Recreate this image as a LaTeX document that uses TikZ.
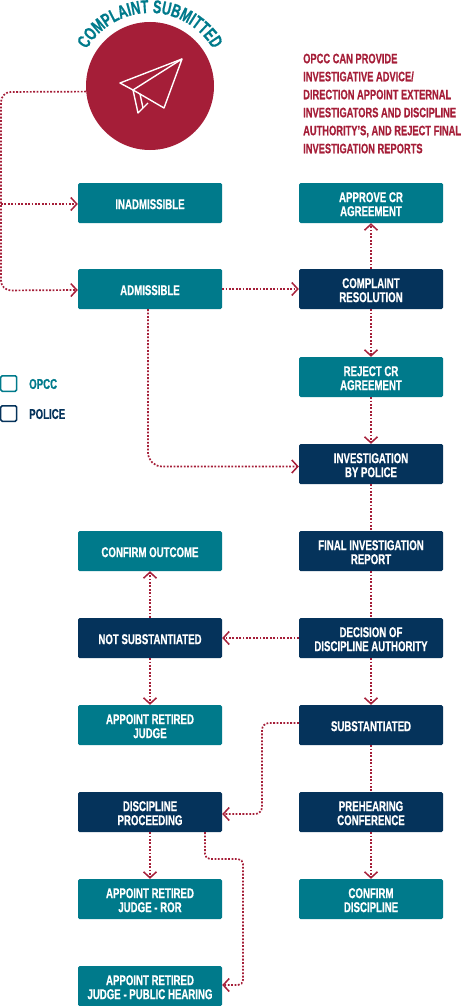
\documentclass[tikz,border=0pt]{standalone}
\usepackage{fontspec}
\setmainfont{Liberation Sans}
\newfontfamily\cond[FakeStretch=0.68,BoldFeatures={FakeBold=0.6}]{Liberation Sans}
\usetikzlibrary{arrows.meta,decorations.text}
\definecolor{crim}{HTML}{A51E38}
\definecolor{tealb}{HTML}{007A8B}
\definecolor{navyb}{HTML}{05335B}
\tikzset{
 x=1pt,y=-1pt,
 boxbase/.style={minimum width=144pt,minimum height=40pt,inner sep=0pt,rounded corners=1.5pt,text=white,align=center,
   font=\cond\bfseries\fontsize{14.2}{14}\selectfont},
 oneline/.style={text height=12.2pt,text depth=0pt},
 twoline/.style={text height=26.2pt,text depth=0pt},
 opcc/.style={boxbase,fill=tealb},
 pol/.style={boxbase,fill=navyb},
 conn/.style={crim,line width=1.7pt,dash pattern=on 1.8pt off 1.6pt},
 tip/.style={-{Straight Barb[length=6pt,width=13pt,line width=1.5pt,crim]}},
 legendbox/.style={draw,line width=1.5pt,rounded corners=1.5pt,minimum width=16pt,minimum height=15.5pt,inner sep=0pt},
 legendtext/.style={anchor=west,inner sep=0pt,font=\cond\bfseries\fontsize{14.2}{14}\selectfont},
}
\begin{document}
\begin{tikzpicture}
\useasboundingbox (0,0) rectangle (462,1006);
\node[circle,fill=crim,minimum size=128pt,inner sep=0pt] (circ) at (150,86) {};
\path[decorate,decoration={text along path,text align=center,text color=tealb,
  text={|\cond\bfseries\fontsize{18.6}{18}\selectfont|COMPLAINT SUBMITTED}}]
  (circ.center) ++(-150:73) arc[start angle=-150,end angle=-30,radius=73];
% plane
\draw[white,line width=1.4pt,line join=round] (182,59) -- (120,83) -- (133,90) -- (138,113) -- (148,103);
\draw[white,line width=1.4pt,line join=round] (133,90) -- (182,59) -- (164,108) -- (140,94) -- cycle;
\draw[white,line width=1.4pt] (140,94) -- (143,108);

\node[opcc,oneline] (inad) at (150,203) {INADMISSIBLE};
\node[opcc,oneline] (adm) at (150,289) {ADMISSIBLE};
\node[opcc,twoline] (appr) at (371,203) {APPROVE CR\\AGREEMENT};
\node[pol,twoline] (cres) at (371,289) {COMPLAINT\\RESOLUTION};
\node[opcc,twoline] (rej) at (371,377) {REJECT CR\\AGREEMENT};
\node[pol,twoline] (inv) at (371,464) {INVESTIGATION\\BY POLICE};
\node[opcc,oneline] (conf) at (150,551) {CONFIRM OUTCOME};
\node[pol,twoline] (final) at (371,551) {FINAL INVESTIGATION\\REPORT};
\node[pol,oneline] (nots) at (150,638) {NOT SUBSTANTIATED};
\node[pol,twoline] (dec) at (371,638) {DECISION OF\\DISCIPLINE AUTHORITY};
\node[opcc,twoline] (judge) at (150,725) {APPOINT RETIRED\\JUDGE};
\node[pol,oneline] (subs) at (371,725) {SUBSTANTIATED};
\node[pol,twoline] (disc) at (150,812) {DISCIPLINE\\PROCEEDING};
\node[pol,twoline] (pre) at (371,812) {PREHEARING\\CONFERENCE};
\node[opcc,twoline] (ror) at (150,899) {APPOINT RETIRED\\JUDGE - ROR};
\node[opcc,twoline] (cdisc) at (371,899) {CONFIRM\\DISCIPLINE};
\node[opcc,twoline] (pub) at (150,986) {APPOINT RETIRED\\JUDGE - PUBLIC HEARING};

\node[anchor=north west,inner sep=0pt,text=crim,align=left,font=\cond\bfseries\fontsize{13.7}{18}\selectfont] (note) at (303,53.5)
 {OPCC CAN PROVIDE\\INVESTIGATIVE ADVICE/\\DIRECTION APPOINT EXTERNAL\\INVESTIGATORS AND DISCIPLINE\\AUTHORITY’S, AND REJECT FINAL\\INVESTIGATION REPORTS};

\node[legendbox,draw=tealb] (lo) at (8.7,383.5) {};
\node[legendtext,text=tealb] (lot) at (29,384) {OPCC};
\node[legendbox,draw=navyb] (lp) at (8.7,413.5) {};
\node[legendtext,text=navyb] (lpt) at (29,414) {POLICE};

\coordinate (bt) at (1,92);
\coordinate (bm) at (1,204);
\coordinate (bb) at (1,290.5);
\draw[conn,tip,rounded corners=10pt] (circ.185) -- (bt) -- (bb) -- ([yshift=-1pt]adm.west);
\draw[conn,tip] (bm) -- ([yshift=-1pt]inad.west);
\draw[conn,tip] (adm.east) -- (cres.west);
\draw[conn,tip] (cres.north) -- (appr.south);
\draw[conn,tip] (cres.south) -- (rej.north);
\draw[conn,tip] (rej.south) -- (inv.north);
\coordinate (admd) at (148,466.5);
\draw[conn,tip,rounded corners=14pt] ([xshift=-2pt]adm.south) -- (admd) -- ([yshift=-2.5pt]inv.west);
\draw[conn] (inv.south) -- (final.north);
\draw[conn] (final.south) -- (dec.north);
\draw[conn,tip] (dec.west) -- (nots.east);
\draw[conn,tip] (dec.south) -- (subs.north);
\draw[conn,tip] (nots.north) -- (conf.south);
\draw[conn,tip] (nots.south) -- (judge.north);
\draw[conn,tip] (disc.south) -- (ror.north);
\coordinate (sa) at (262,723);
\coordinate (sb) at (262,814);
\draw[conn,tip,rounded corners=7pt] ([yshift=2pt]subs.west) -- (sa) -- (sb) -- ([yshift=-2pt]disc.east);
\coordinate (da) at (205,859);
\coordinate (db) at (243,859);
\coordinate (dc) at (243,985);
\draw[conn,tip,rounded corners=5pt] ([xshift=55pt]disc.south) -- (da) -- (db) -- (dc) -- ([yshift=1pt]pub.east);
\draw[conn] (subs.south) -- (pre.north);
\draw[conn,tip] (pre.south) -- (cdisc.north);
\end{tikzpicture}
\end{document}
